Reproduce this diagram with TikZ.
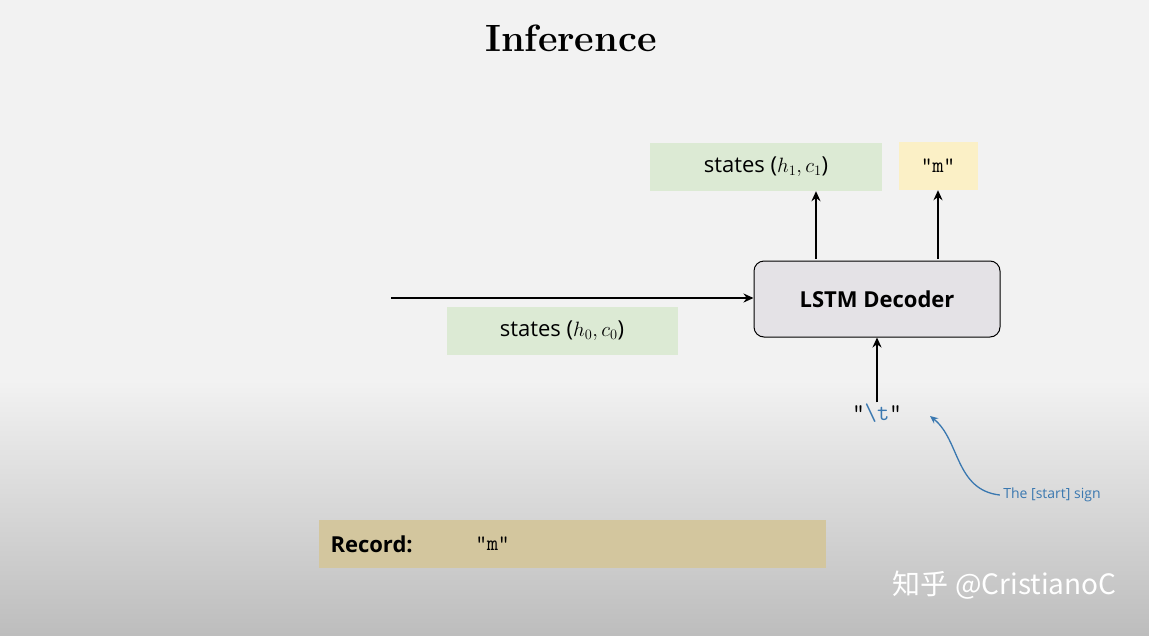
\documentclass[tikz,border=0pt]{standalone}
\usepackage{fontspec}
\setsansfont{Open Sans}
\newfontfamily\cjk{Noto Sans CJK SC}
\usetikzlibrary{arrows.meta}
\definecolor{bgtop}{HTML}{F2F2F2}
\definecolor{bgbot}{HTML}{BDBDBD}
\definecolor{grn}{HTML}{DCEAD4}
\definecolor{ylw}{HTML}{FBF0C6}
\definecolor{decfill}{HTML}{E4E2E6}
\definecolor{rec}{HTML}{D3C69E}
\definecolor{blu}{HTML}{3A78B0}
\tikzset{
  lbl/.style={inner sep=0pt, minimum height=48pt, font=\sffamily\fontsize{22}{26}\selectfont},
  arr/.style={-{Stealth[length=10pt,width=9pt]}, line width=2.2pt},
}
\begin{document}
\begin{tikzpicture}[x=1pt,y=-1pt]
\useasboundingbox (0,0) rectangle (1149,635);
\fill[bgtop] (0,0) rectangle (1149,380);
\shade[top color=bgtop, bottom color=bgbot] (0,380) rectangle (1149,635);
\node (title) at (571,38) {\fontsize{38}{44}\selectfont\bfseries Inference};
\node[lbl, fill=grn, minimum width=232pt] (s1) at (766,167) {states (\ensuremath{h_1,c_1})};
\node[lbl, fill=ylw, minimum width=79pt, font=\ttfamily\fontsize{22}{26}\selectfont] (m) at (938,166) {"m"};
\node[draw, line width=1pt, rounded corners=10pt, fill=decfill, minimum width=246pt, minimum height=76pt, font=\sffamily\bfseries\fontsize{22}{26}\selectfont] (dec) at (877,299) {LSTM Decoder};
\coordinate (in) at (391,298);
\draw[arr] (in) -- (dec.west |- in);
\node[lbl, fill=grn, minimum width=231pt] (s0) at (562,331) {states (\ensuremath{h_0,c_0})};
\draw[arr] (816,259) -- (s1.south -| 816,0);
\draw[arr] (938,259) -- (m.south);
\node[inner sep=1pt, font=\ttfamily\fontsize{24}{28}\selectfont] (t) at (877,413) {"\textcolor{blu}{\textbackslash t}"};
\draw[arr] (t.north) -- (dec.south);
\node[text=blu, font=\sffamily\fontsize{14}{17}\selectfont] (sign) at (1052,495) {The [start] sign};
\draw[blu, line width=1.3pt, -{Stealth[length=8pt,width=7pt]}] (sign.west) .. controls (955,490) and (960,440) .. (930,416);
\node[fill=rec, minimum width=507pt, minimum height=48pt, inner sep=0pt] (rec) at (572,544) {};
\node[anchor=west, font=\sffamily\bfseries\fontsize{22}{26}\selectfont] (rl) at (327,544) {Record:};
\node[anchor=west, font=\ttfamily\fontsize{22}{26}\selectfont] (rv) at (472,544) {"m"};
\node[text=white, font=\cjk\fontsize{28}{32}\selectfont, anchor=east] (wm) at (1120,585) {知乎 @CristianoC};
\end{tikzpicture}
\end{document}
